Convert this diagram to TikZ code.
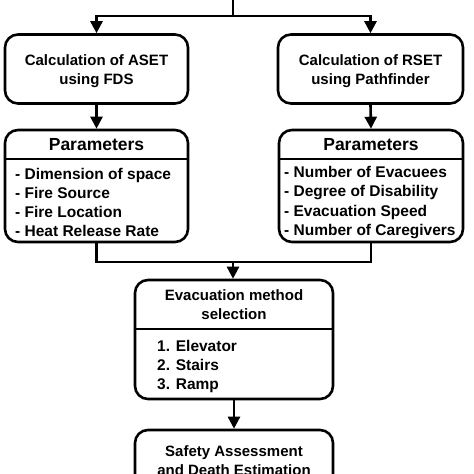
\documentclass[tikz,border=0pt]{standalone}
\usepackage{fontspec}
\setmainfont{Liberation Sans}
\usetikzlibrary{arrows.meta}
\begin{document}
\begin{tikzpicture}[x=1pt,y=-1pt,
  box/.style={draw,line width=2.6pt,rounded corners=13pt,inner sep=0pt},
  txt/.style={font=\bfseries\fontsize{15}{19}\selectfont,align=center,inner sep=0pt},
  lst/.style={font=\bfseries\fontsize{15.5}{19.3}\selectfont,align=left,inner sep=0pt,anchor=west},
  hdr/.style={font=\bfseries\fontsize{17.5}{20}\selectfont,inner sep=0pt},
  ln/.style={line width=2.6pt},
  arr/.style={line width=2.6pt,-{Triangle[length=12pt,width=12pt]}}]
\clip (0,0) rectangle (474,474);
\fill[white] (0,0) rectangle (474,474);
% boxes
\node[box,minimum width=183pt,minimum height=69pt] (aset) at (96.5,69) {};
\node[box,minimum width=185pt,minimum height=69pt] (rset) at (370.5,69) {};
\node[box,minimum width=183pt,minimum height=112pt] (p1) at (96.5,186) {};
\node[box,minimum width=184pt,minimum height=112pt] (p2) at (371,186) {};
\node[box,minimum width=198pt,minimum height=119pt] (evac) at (234,339.5) {};
\node[box,minimum width=198pt,minimum height=90pt] (safe) at (234,475) {};
% dividers
\draw[ln] (p1.west |- 0,159) -- (p1.east |- 0,159);
\draw[ln] (p2.west |- 0,159) -- (p2.east |- 0,159);
\draw[ln] (evac.west |- 0,329) -- (evac.east |- 0,329);
% texts
\node[txt] (t1) at (96.5,71) {Calculation of ASET\\using FDS};
\node[txt] (t2) at (370.5,71) {Calculation of RSET\\using Pathfinder};
\node[hdr] (h1) at (96.5,145) {Parameters};
\node[hdr] (h2) at (371,145) {Parameters};
\node[lst] (l1) at (15,202.5) {- Dimension of space\\- Fire Source\\- Fire Location\\- Heat Release Rate};
\node[lst] (l2) at (284,202.5) {- Number of Evacuees\\- Degree of Disability\\- Evacuation Speed\\- Number of Caregivers};
\node[txt] (t3) at (234,305) {Evacuation method\\selection};
\node[lst] (l3) at (157,366.5) {1. Elevator\\2. Stairs\\3. Ramp};
\node[txt] (t4) at (234,461) {Safety Assessment\\and Death Estimation};
% connectors
\coordinate (top) at (233,-5);
\coordinate (j0) at (233,16);
\coordinate (j1) at (233,262);
\draw[ln] (top) -- (j0);
\draw[arr] (j0) -| (aset.north);
\draw[arr] (j0) -| (rset.north);
\draw[arr] (aset.south) -- (p1.north);
\draw[arr] (rset.south) -- (p2.north);
\draw[ln] (p1.south) |- (j1);
\draw[ln] (p2.south) |- (j1);
\draw[arr] (j1) -- (evac.north -| j1);
\draw[arr] (evac.south) -- (safe.north);
\end{tikzpicture}
\end{document}
